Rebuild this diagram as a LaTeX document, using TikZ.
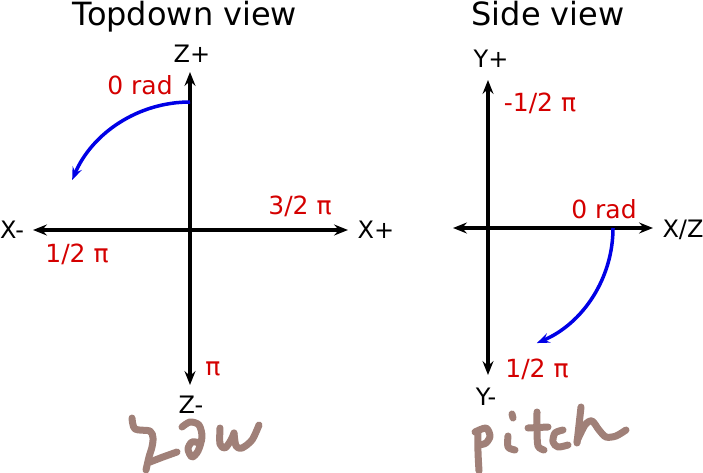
\documentclass[tikz,border=0pt]{standalone}
\usepackage{fontspec}
\setmainfont{DejaVu Sans}
\usetikzlibrary{arrows.meta}

\definecolor{anglered}{RGB}{212,0,0}
\definecolor{turnblue}{RGB}{0,0,230}
\definecolor{penbrown}{RGB}{160,128,120}

\tikzset{
  axis/.style={line width=3.5pt,{Stealth[length=14pt,width=11pt,inset=5pt]}-{Stealth[length=14pt,width=11pt,inset=5pt]}},
  turn/.style={turnblue,line width=3.5pt,-{Stealth[length=13pt,width=10pt,inset=5pt]}},
  viewtitle/.style={anchor=base,inner sep=0pt,font=\fontsize{32}{32}\selectfont},
  axlabel/.style={anchor=base,inner sep=0pt,font=\fontsize{24}{24}\selectfont},
  radlabel/.style={anchor=base,inner sep=0pt,text=anglered,font=\fontsize{25}{25}\selectfont},
  pen/.style={penbrown,line width=7pt,line cap=round,line join=round}
}

\begin{document}
\begin{tikzpicture}[x=1pt,y=-1pt]
\useasboundingbox (0,0) rectangle (703,473);

% topdown view
\node[viewtitle] (toptitle) at (185,26) {Topdown view};
\coordinate (xminus) at (33,230);
\coordinate (xplus) at (348,230);
\coordinate (zplus) at (190,72);
\coordinate (zminus) at (190,385);
\draw[axis] (xminus) -- (xplus);
\draw[axis] (zminus) -- (zplus);
\node[axlabel] (zp) at (192,63) {Z+};
\node[axlabel] (zm) at (191,413) {Z-};
\node[axlabel] (xm) at (12,238) {X-};
\node[axlabel] (xp) at (376,238) {X+};
\node[radlabel] (yawzero) at (140,95) {0 rad};
\node[radlabel] (yawthree) at (300,214) {3/2 π};
\node[radlabel] (yawhalf) at (77,262) {1/2 π};
\node[radlabel] (yawpi) at (213,375) {π};
\coordinate (yawstart) at (190,102);
\draw[turn] (yawstart) arc[start angle=-90,end angle=-157,radius=128];

% side view
\node[viewtitle] (sidetitle) at (548,26) {Side view};
\coordinate (hleft) at (453,228);
\coordinate (hright) at (653,228);
\coordinate (yplus) at (488,80);
\coordinate (yminus) at (488,375);
\draw[axis] (hleft) -- (hright);
\draw[axis] (yminus) -- (yplus);
\node[axlabel] (yp) at (491,68) {Y+};
\node[axlabel] (ym) at (486,405) {Y-};
\node[axlabel] (xz) at (683,237) {X/Z};
\node[radlabel] (pitchup) at (540,112) {-1/2 π};
\node[radlabel] (pitchzero) at (604,218) {0 rad};
\node[radlabel] (pitchhalf) at (537,377) {1/2 π};
\coordinate (pitchstart) at (613,228);
\draw[turn] (pitchstart) arc[start angle=0,end angle=67,radius=125];

% handwriting
\draw[pen] plot[smooth] coordinates {(132,418) (135,429) (150,431) (153,438) (152,447) (149,457) (146,470)};
\draw[pen] plot[smooth] coordinates {(150,462) (163,457) (177,452)};
\draw[pen] plot[smooth] coordinates {(182,427) (190,422) (199,425) (202,437) (198,451) (192,457) (188,449) (192,442) (200,443)};
\draw[pen] plot[smooth] coordinates {(220,428) (220,444) (225,448) (231,440) (234,433)};
\draw[pen] plot[smooth] coordinates {(234,433) (236,446) (242,448) (252,440) (259,425)};
\draw[pen] plot[smooth] coordinates {(478,431) (478,452) (479,471)};
\draw[pen] plot[smooth] coordinates {(475,432) (486,428) (490,436) (486,443) (479,445)};
\draw[pen] plot[smooth] coordinates {(508,436) (508,447) (515,450)};
\draw[pen] (512,414) -- (513,418);
\draw[pen] plot[smooth] coordinates {(537,412) (537,430) (538,446) (544,450)};
\draw[pen] (528,428) -- (548,427);
\draw[pen] plot[smooth] coordinates {(563,430) (555,433) (553,442) (558,447) (568,445)};
\draw[pen] plot[smooth] coordinates {(581,407) (579,425) (577,443)};
\draw[pen] plot[smooth] coordinates {(577,441) (585,425) (592,421) (599,430) (606,437) (616,436) (626,430)};
\end{tikzpicture}
\end{document}
